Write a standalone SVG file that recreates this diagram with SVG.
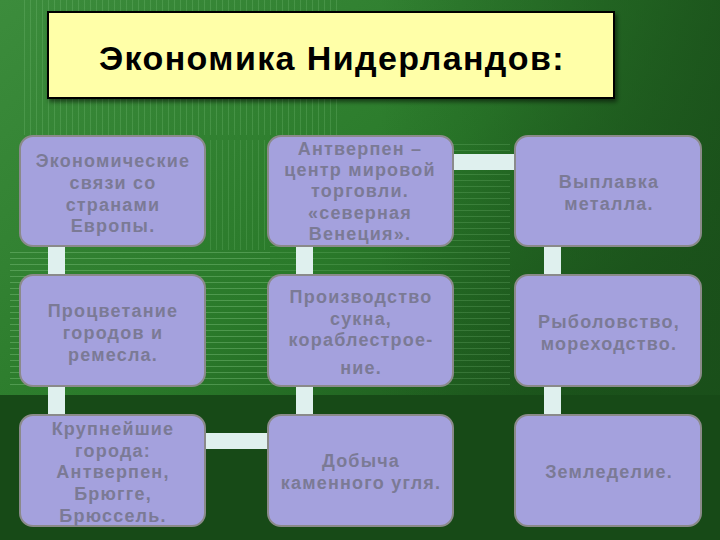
<svg xmlns="http://www.w3.org/2000/svg" width="720" height="540" viewBox="0 0 720 540">
  <defs>
    <linearGradient id="bg" x1="0" y1="0" x2="1" y2="1">
      <stop offset="0" stop-color="#3c8c3c"/>
      <stop offset="0.45" stop-color="#2a7a2a"/>
      <stop offset="0.75" stop-color="#1c561c"/>
      <stop offset="1" stop-color="#174a17"/>
    </linearGradient>
    <linearGradient id="bgr" x1="0" y1="0" x2="1" y2="0">
      <stop offset="0" stop-color="#1a4f1a" stop-opacity="0"/>
      <stop offset="1" stop-color="#1a4f1a" stop-opacity="0.8"/>
    </linearGradient>
    <pattern id="hl" width="6" height="6" patternUnits="userSpaceOnUse">
      <rect width="6" height="1" fill="#8fd08f" opacity="0.35"/>
    </pattern>
    <pattern id="vl" width="6" height="6" patternUnits="userSpaceOnUse">
      <rect width="1" height="6" fill="#8fd08f" opacity="0.35"/>
    </pattern>
    <filter id="sh" x="-5%" y="-5%" width="110%" height="120%">
      <feDropShadow dx="2" dy="3" stdDeviation="2" flood-color="#000" flood-opacity="0.5"/>
    </filter>
  </defs>
  <style>
    .node rect { fill: #a4a1dd; stroke: #8a8a8a; stroke-width: 2; }
    .node text { font-family: "Liberation Sans", Arial, sans-serif; font-weight: bold; font-size: 18px; letter-spacing: 1.2px; fill: #7b7a95; text-anchor: middle; }
    .conn rect { fill: #dff0ee; }
    .title text { font-family: "Liberation Sans", Arial, sans-serif; font-weight: bold; font-size: 34px; letter-spacing: 1.4px; fill: #000; text-anchor: middle; }
  </style>

  <rect width="720" height="540" fill="url(#bg)"/>
  <rect x="380" y="0" width="340" height="540" fill="url(#bgr)"/>
  <rect x="0" y="395" width="720" height="145" fill="#174a17"/>
  <!-- decorative line patterns -->
  <rect x="10" y="250" width="260" height="140" fill="url(#hl)"/>
  <rect x="270" y="140" width="240" height="250" fill="url(#hl)" opacity="0.6"/>
  <rect x="20" y="0" width="320" height="135" fill="url(#vl)" opacity="0.6"/>
  <rect x="210" y="140" width="60" height="110" fill="url(#vl)" opacity="0.5"/>

  <g id="title" class="title">
    <rect x="48" y="12" width="566" height="86" fill="#ffffa8" stroke="#000" stroke-width="2" filter="url(#sh)"/>
    <text x="332" y="70">Экономика Нидерландов:</text>
  </g>

  <g id="connectors" class="conn">
    <rect x="48" y="246" width="17" height="29"/>
    <rect x="48" y="386" width="17" height="29"/>
    <rect x="296" y="246" width="17" height="29"/>
    <rect x="296" y="386" width="17" height="29"/>
    <rect x="544" y="246" width="17" height="29"/>
    <rect x="544" y="386" width="17" height="29"/>
    <rect x="452" y="154" width="63" height="16"/>
    <rect x="204" y="433" width="64" height="16"/>
  </g>

  <g id="n1" class="node">
    <rect x="20" y="136" width="185" height="110" rx="13"/>
    <text x="113" y="167">Экономические</text>
    <text x="113" y="189">связи со</text>
    <text x="113" y="211">странами</text>
    <text x="113" y="232">Европы.</text>
  </g>
  <g id="n2" class="node">
    <rect x="268" y="136" width="185" height="110" rx="13"/>
    <text x="360" y="155">Антверпен –</text>
    <text x="360" y="176">центр мировой</text>
    <text x="360" y="197">торговли.</text>
    <text x="360" y="219">«северная</text>
    <text x="360" y="240">Венеция».</text>
  </g>
  <g id="n3" class="node">
    <rect x="515" y="136" width="186" height="110" rx="13"/>
    <text x="609" y="188">Выплавка</text>
    <text x="609" y="210">металла.</text>
  </g>
  <g id="n4" class="node">
    <rect x="20" y="275" width="185" height="111" rx="13"/>
    <text x="113" y="317">Процветание</text>
    <text x="113" y="339">городов и</text>
    <text x="113" y="361">ремесла.</text>
  </g>
  <g id="n5" class="node">
    <rect x="268" y="275" width="185" height="111" rx="13"/>
    <text x="361" y="303">Производство</text>
    <text x="361" y="325">сукна,</text>
    <text x="361" y="346">кораблестрое-</text>
    <text x="361" y="374">ние.</text>
  </g>
  <g id="n6" class="node">
    <rect x="515" y="275" width="186" height="111" rx="13"/>
    <text x="609" y="328">Рыболовство,</text>
    <text x="609" y="350">мореходство.</text>
  </g>
  <g id="n7" class="node">
    <rect x="20" y="415" width="185" height="111" rx="13"/>
    <text x="113" y="435">Крупнейшие</text>
    <text x="113" y="457">города:</text>
    <text x="113" y="478">Антверпен,</text>
    <text x="113" y="500">Брюгге,</text>
    <text x="113" y="522">Брюссель.</text>
  </g>
  <g id="n8" class="node">
    <rect x="268" y="415" width="185" height="111" rx="13"/>
    <text x="361" y="467">Добыча</text>
    <text x="361" y="489">каменного угля.</text>
  </g>
  <g id="n9" class="node">
    <rect x="515" y="415" width="186" height="111" rx="13"/>
    <text x="609" y="478">Земледелие.</text>
  </g>
</svg>
